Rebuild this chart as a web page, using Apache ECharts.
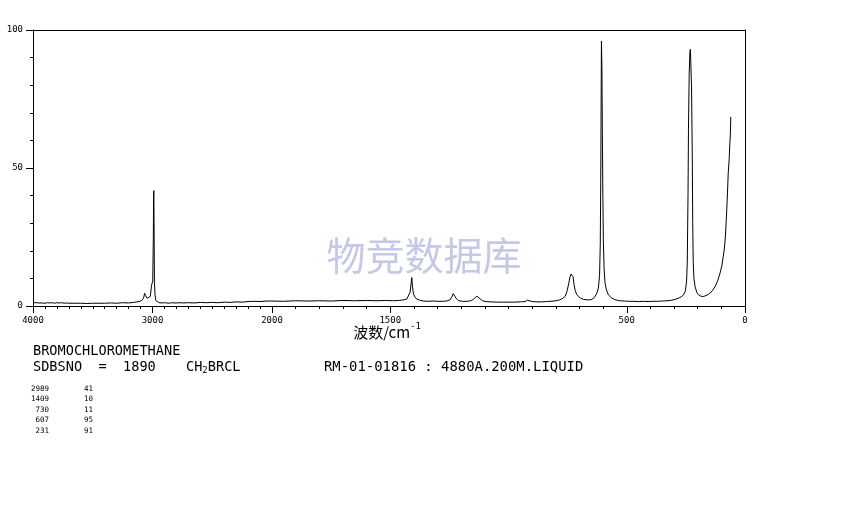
<!DOCTYPE html>
<html><head><meta charset="utf-8">
<script src="https://cdn.jsdelivr.net/npm/echarts/dist/echarts.min.js"></script>
<style>html,body{margin:0;padding:0;background:#fff}#c{width:850px;height:510px}</style>
</head><body><div id="c"></div>
<script>
// Spectrum, high-wavenumber part (4000-2000 cm-1, compressed scale)
const wnHigh = [4000,3975,3950,3925,3900,3880,3860,3840,3820,3800,3780,3760,3740,3720,3700,3650,3600,3550,3500,3450,3400,3350,3300,3250,3200,3160,3130,3110,3090,3075,3066,3058,3045,3030,3018,3008,2998,2993,2991,2989,2987,2984,2979,2972,2962,2945,2920,2900,2880,2860,2840,2820,2808,2795,2770,2740,2700,2650,2600,2550,2500,2450,2400,2350,2300,2250,2200,2150,2100,2050,2000];
const intHigh = [1.2,1.2,1.1,1.1,1.0,1.2,1.1,1.2,1.0,1.2,1.1,1.2,1.0,1.1,1.0,1.0,1.0,0.9,1.0,1.0,1.0,1.1,1.0,1.2,1.1,1.3,1.5,1.6,2.0,2.8,4.6,3.8,2.8,2.6,3.5,7.5,9.0,25,39,41.8,30,9.0,4.0,2.0,1.4,1.2,1.1,1.2,1.1,1.0,1.2,1.1,1.5,1.1,1.2,1.1,1.2,1.1,1.3,1.2,1.3,1.2,1.4,1.3,1.5,1.4,1.6,1.7,1.6,1.8,1.8];
// Spectrum, low-wavenumber part (2000-60 cm-1)
const wnLow = [2000,1950,1900,1850,1800,1750,1700,1650,1600,1560,1520,1490,1465,1445,1430,1422,1416,1412,1409,1406,1402,1396,1388,1375,1360,1340,1320,1300,1280,1262,1248,1240,1234,1230,1226,1220,1210,1195,1175,1160,1148,1140,1134,1128,1120,1110,1095,1075,1050,1025,1000,975,950,930,920,912,900,880,860,840,820,800,785,770,760,752,745,740,735,731,727,723,718,712,704,695,683,665,650,638,628,620,615,612,610,608,607,605,603,601,599,596,592,586,578,566,550,530,510,490,470,450,430,410,390,370,350,330,310,295,282,270,260,252,247,244,241,239,236,233,231,229,226,223,221,219,216,211,204,197,188,176,165,155,148,138,127,116,106,98,92,87,83,80,77,74,71,67,64,62,60];
const intLow = [1.8,1.7,1.9,1.8,1.9,1.8,2.0,1.9,2.0,1.9,2.0,1.9,2.0,2.2,2.5,3.2,5.0,8.0,10.3,7.2,4.4,3.3,2.5,2.1,1.8,1.7,1.8,1.7,1.7,1.8,2.2,3.2,4.5,5.0,4.2,2.6,1.9,1.7,1.7,1.9,2.4,3.1,3.6,3.4,2.6,1.9,1.6,1.5,1.4,1.4,1.4,1.4,1.5,1.6,2.1,2.0,1.6,1.5,1.5,1.6,1.7,1.9,2.2,2.8,3.6,5.5,8.3,10.5,11.6,12.0,10.6,7.8,5.6,4.3,3.4,2.8,2.4,2.2,2.3,3.0,4.3,6.5,11,22,45,80,96,86,62,40,24,14,8.5,5.8,4.2,3.0,2.3,1.9,1.8,1.7,1.7,1.6,1.7,1.6,1.7,1.7,1.8,1.9,2.1,2.4,2.8,3.3,4.0,5.5,9,16,40,64,84,92,93,88,79,55,30,16,10,7,5,4.1,3.6,3.4,3.8,4.2,4.6,5.5,7.0,9,11.8,14.5,17.9,21,25,30,35,41,48,53,59,62,68.5];

const xLabelsHigh = [4000, 3000, 2000];
const xLabelsLow = [1500, 500, 0];
const yLabels = [0, 50, 100];

const peakWn = [2989, 1409, 730, 607, 231];
const peakInt = [41, 10, 11, 95, 91];

const compoundName = 'BROMOCHLOROMETHANE';
const sdbsLine = 'SDBSNO  =  1890';
const measLine = 'RM-01-01816 : 4880A.200M.LIQUID';
const watermark = '物竞数据库';

const MONO = '"DejaVu Sans Mono", monospace';
const CJK = '"Noto Sans CJK SC", sans-serif';
const BLACK = '#000';

const chart = echarts.init(document.getElementById('c'), null, {renderer: 'canvas'});

const baseLine = {show: true, onZero: false, lineStyle: {color: BLACK, width: 1}};
const noLine = {show: false, onZero: false};
const lbl = {color: BLACK, fontFamily: MONO, fontSize: 9, margin: 10, formatter: v => String(v)};

const gridTop = 30, gridBottom = 204;

const tableGraphics = [];
peakWn.forEach((w, i) => {
  tableGraphics.push({type: 'text', x: 49, y: 389 + i * 10.5, z: 10,
    style: {text: String(w), fontFamily: MONO, fontSize: 7.5, fill: BLACK, align: 'right', verticalAlign: 'middle'}});
  tableGraphics.push({type: 'text', x: 84, y: 389 + i * 10.5, z: 10,
    style: {text: String(peakInt[i]), fontFamily: MONO, fontSize: 7.5, fill: BLACK, align: 'left', verticalAlign: 'middle'}});
});

const option = {
  animation: false,
  backgroundColor: '#fff',
  grid: [
    {left: 33, top: gridTop, width: 239, bottom: gridBottom},
    {left: 272, top: gridTop, right: 105, bottom: gridBottom}
  ],
  xAxis: [
    {gridIndex: 0, type: 'value', position: 'bottom', min: 2000, max: 4000, inverse: true, interval: 100,
      axisLine: baseLine, axisTick: {show: true, length: 3, lineStyle: {color: BLACK}}, axisLabel: {show: false}, splitLine: {show: false}},
    {gridIndex: 0, type: 'value', position: 'bottom', min: 2000, max: 4000, inverse: true,
      axisLine: noLine, axisTick: {show: true, length: 7, customValues: xLabelsHigh, lineStyle: {color: BLACK}},
      axisLabel: Object.assign({customValues: xLabelsHigh}, lbl), splitLine: {show: false}},
    {gridIndex: 0, type: 'value', position: 'top', min: 2000, max: 4000, inverse: true,
      axisLine: baseLine, axisTick: {show: false}, axisLabel: {show: false}, splitLine: {show: false}},
    {gridIndex: 1, type: 'value', position: 'bottom', min: 0, max: 2000, inverse: true, interval: 100,
      axisLine: baseLine, axisTick: {show: true, length: 3, lineStyle: {color: BLACK}}, axisLabel: {show: false}, splitLine: {show: false}},
    {gridIndex: 1, type: 'value', position: 'bottom', min: 0, max: 2000, inverse: true,
      axisLine: noLine, axisTick: {show: true, length: 7, customValues: xLabelsLow, lineStyle: {color: BLACK}},
      axisLabel: Object.assign({customValues: xLabelsLow}, lbl), splitLine: {show: false}},
    {gridIndex: 1, type: 'value', position: 'top', min: 0, max: 2000, inverse: true,
      axisLine: baseLine, axisTick: {show: false}, axisLabel: {show: false}, splitLine: {show: false}}
  ],
  yAxis: [
    {gridIndex: 0, type: 'value', position: 'left', min: 0, max: 100, interval: 10,
      axisLine: baseLine, axisTick: {show: true, length: 3, lineStyle: {color: BLACK}}, axisLabel: {show: false}, splitLine: {show: false}},
    {gridIndex: 0, type: 'value', position: 'left', min: 0, max: 100,
      axisLine: noLine, axisTick: {show: true, length: 7, customValues: yLabels, lineStyle: {color: BLACK}},
      axisLabel: Object.assign({customValues: yLabels}, lbl), splitLine: {show: false}},
    {gridIndex: 1, type: 'value', position: 'right', min: 0, max: 100,
      axisLine: baseLine, axisTick: {show: false}, axisLabel: {show: false}, splitLine: {show: false}}
  ],
  series: [
    {type: 'line', xAxisIndex: 0, yAxisIndex: 0, data: wnHigh.map((w, i) => [w, intHigh[i]]),
      showSymbol: false, symbol: 'none', silent: true, z: 5, lineStyle: {color: BLACK, width: 1}},
    {type: 'line', xAxisIndex: 3, yAxisIndex: 2, data: wnLow.map((w, i) => [w, intLow[i]]),
      showSymbol: false, symbol: 'none', silent: true, z: 5, lineStyle: {color: BLACK, width: 1}}
  ],
  graphic: [
    {type: 'text', x: 424, y: 255, z: 0, silent: true,
      style: {text: watermark, fontFamily: CJK, fontSize: 39, fill: '#c6c8e8', align: 'center', verticalAlign: 'middle'}},
    {type: 'text', x: 387, y: 332, z: 10,
      style: {text: '{a|波数/cm}{s|-1}', align: 'center', verticalAlign: 'middle',
        rich: {
          a: {fontFamily: CJK, fontSize: 15, fill: BLACK, lineHeight: 20},
          s: {fontFamily: MONO, fontSize: 9, fill: BLACK, lineHeight: 8, verticalAlign: 'top'}
        }}},
    {type: 'text', x: 33, y: 351, z: 10,
      style: {text: compoundName, fontFamily: MONO, fontSize: 13.6, fill: BLACK, align: 'left', verticalAlign: 'middle'}},
    {type: 'text', x: 33, y: 367, z: 10,
      style: {text: sdbsLine, fontFamily: MONO, fontSize: 13.6, fill: BLACK, align: 'left', verticalAlign: 'middle'}},
    {type: 'text', x: 186, y: 367, z: 10,
      style: {text: '{n|CH}{s|2}{n|BRCL}', align: 'left', verticalAlign: 'middle',
        rich: {
          n: {fontFamily: MONO, fontSize: 13.6, fill: BLACK, lineHeight: 16},
          s: {fontFamily: MONO, fontSize: 9, fill: BLACK, lineHeight: 16, verticalAlign: 'bottom', padding: [6, 0, 0, 0]}
        }}},
    {type: 'text', x: 324, y: 367, z: 10,
      style: {text: measLine, fontFamily: MONO, fontSize: 13.9, fill: BLACK, align: 'left', verticalAlign: 'middle'}}
  ].concat(tableGraphics)
};
chart.setOption(option);
</script>
</body></html>
